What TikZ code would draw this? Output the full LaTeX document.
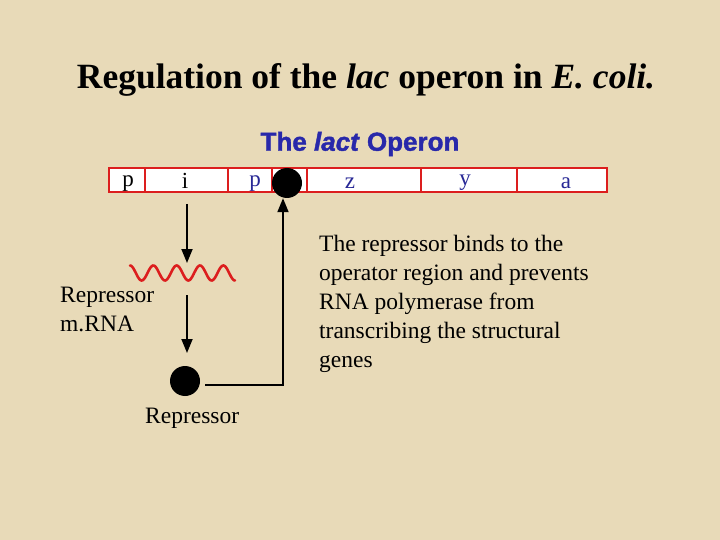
\documentclass[tikz,border=0pt]{standalone}
\usepackage{fontspec}
\setmainfont{Liberation Serif}
\newfontfamily\arialf{Liberation Sans}[BoldFeatures={FakeBold=1.5},BoldItalicFeatures={FakeBold=1.5}]
\usetikzlibrary{arrows.meta}
\definecolor{parch}{RGB}{232,218,184}
\definecolor{segred}{RGB}{220,30,30}
\definecolor{opblue}{RGB}{40,40,170}
\definecolor{lblblue}{RGB}{40,40,150}
\begin{document}
\begin{tikzpicture}[x=1pt,y=-1pt,
  seg/.style={draw=segred,line width=2pt,fill=white},
  lbl/.style={font=\fontsize{23}{23}\selectfont,inner sep=0pt,anchor=base},
  txt/.style={font=\fontsize{23.5}{29}\selectfont,inner sep=0pt,align=left},
  arr/.style={line width=1.8pt,-{Triangle[length=14pt,width=11pt]}},
  dot/.style={circle,fill=black,minimum size=30pt,inner sep=0pt}]
\fill[parch] (0,0) rectangle (720,540);
\useasboundingbox (0,0) rectangle (720,540);
\node[font=\fontsize{35.5}{36}\selectfont\bfseries,inner sep=0pt] (title) at (366,80) {Regulation of the \textit{lac} operon in \textit{E. coli.}};
\node[font=\arialf\fontsize{26}{26}\selectfont\bfseries,text=opblue,inner sep=0pt] (op) at (360,144) {The \textit{lact} Operon};
\foreach \a/\b/\n in {109/145/s1,145/228/s2,228/272/s3,272/307/s4,307/421/s5,421/517/s6,517/607/s7}
  \draw[seg] (\a,168) rectangle (\b,192) coordinate (\n);
\node[lbl] (lp) at (128,187) {p};
\node[lbl] (li) at (185,189) {i};
\node[lbl,text=lblblue] (lp2) at (255,187) {p};
\node[lbl,text=lblblue] (lz) at (350,189) {z};
\node[lbl,text=lblblue] (ly) at (465,186) {y};
\node[lbl,text=lblblue] (la) at (566,189) {a};
\node[dot] (op1) at (287,183) {};
\coordinate (a1s) at (187,204);
\coordinate (a1e) at (187,263);
\draw[arr] (a1s) -- (a1e);
\draw[segred,line width=2.6pt,line cap=round,domain=0:105,samples=120,smooth] plot (130+\x,{273-7.5*sin(\x/105*4.5*360+90)});
\coordinate (a2s) at (187,295);
\coordinate (a2e) at (187,353);
\draw[arr] (a2s) -- (a2e);
\node[dot] (rep) at (185,381) {};
\coordinate (bend) at (283,385);
\draw[arr] (rep.east) ++(5,4) -- (bend) -- ([xshift=-4pt]op1.south);
\node[txt,anchor=north west] (mrna) at (60,287) {Repressor\\m.RNA};
\node[txt,anchor=base west,inner sep=0pt] (replbl) at (145,423) {Repressor};
\node[txt,anchor=north west] (desc) at (319,235) {The repressor binds to the\\operator region and prevents\\RNA polymerase from\\transcribing the structural\\genes};
\end{tikzpicture}
\end{document}
